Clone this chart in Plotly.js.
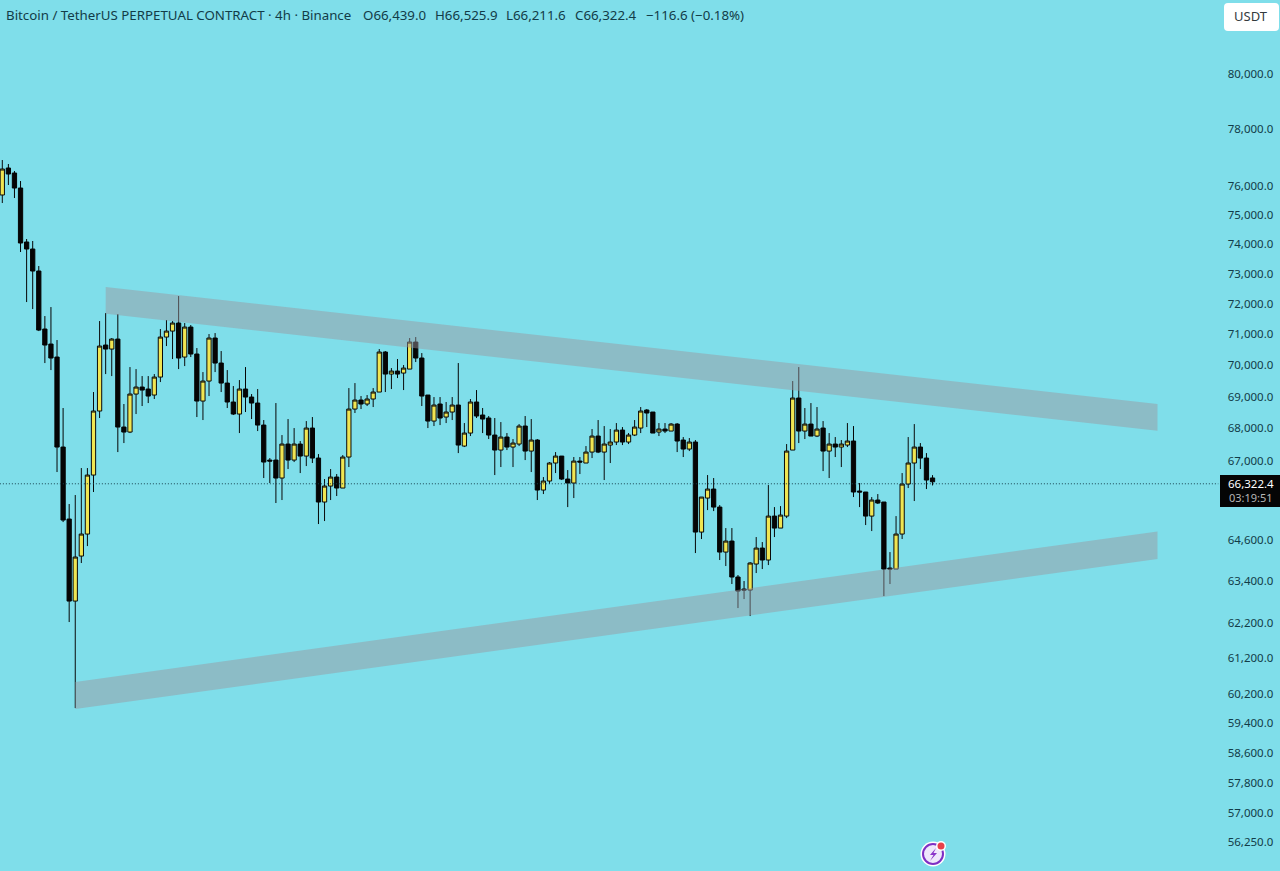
<!DOCTYPE html>
<html>
<head>
<meta charset="utf-8">
<script src="https://cdn.plot.ly/plotly-3.0.1.min.js"></script>
<style>html,body{margin:0;padding:0;background:#7fdeea;overflow:hidden}#chart{width:1280px;height:871px}</style>
</head>
<body>
<div id="chart"></div>
<script>
const open = [75647,76588,76413,75889,74033,73795,73054,71136,70648,70228,67388,65199,62792,64102,64752,66528,68511,70616,70486,70810,
68009,67853,69046,69268,69205,69015,69586,70875,71070,71332,70228,71201,70325,68825,69459,70843,70035,69395,68794,68416,
69205,68951,68762,68071,66987,66987,66437,67481,66987,67481,67110,67978,67049,65710,66193,66467,66133,67080,68573,68857,
68731,68889,69110,70390,69682,69778,69714,69842,70713,70196,69015,68196,68731,68322,68479,68699,67419,67822,68794,68385,
68291,67760,67295,67698,67388,67481,68040,67264,67605,66072,66346,66896,67110,66406,66285,66956,66896,67233,67729,67233,
67450,67543,67915,67543,67760,67978,68542,68479,67853,67947,67884,68102,67605,67326,67543,64811,65830,66102,65558,64219,
64544,63488,63139,63110,63868,64337,63985,65288,64930,65288,67295,68920,67884,68102,67729,67978,67264,67481,67388,67450,
67574,66042,66012,65288,65770,65710,63750,63721,64752,66254,66896,67388,67049,66439];
const close = [76553,76378,75889,73999,73795,73054,71103,70616,70196,67388,65169,62792,64073,64752,66528,68511,70583,70486,70810,68009,
67853,69046,69268,69173,68983,69586,70875,71070,71332,70196,71201,70325,68825,69459,70843,70035,69395,68794,68416,69205,
68951,68762,68071,66926,66956,66437,67481,66987,67481,67110,67978,67049,65710,66193,66467,66133,67080,68573,68857,68731,
68889,69110,70390,69682,69778,69682,69874,70713,70196,68983,68196,68699,68291,68479,68699,67450,67822,68794,68354,68259,
67760,67295,67698,67388,67512,68040,67264,67605,66072,66346,66896,67110,66406,66285,66956,66926,67233,67729,67233,67481,
67543,67915,67543,67760,68009,68511,68448,67822,67947,67884,68102,67574,67326,67543,64811,65860,66102,65558,64219,64544,
63488,63081,63110,63897,64337,63985,65288,64930,65318,67264,68920,67884,68102,67729,67947,67264,67481,67388,67481,67574,
66012,66012,65288,65770,65680,63721,63721,64752,66254,66896,67388,67049,66376,66322.4];
const high = [76870,76730,76483,76133,74135,74067,73222,71561,71857,70778,68605,65650,65921,66742,66742,69110,71397,71660,70843,71627,
68731,69906,69842,69618,69618,69682,71136,71430,71397,72221,71332,71267,70519,69746,70973,71005,70422,69810,69300,69491,
69906,69046,69205,68228,67049,68762,67760,68259,67978,67574,68196,68322,67172,66406,66712,66559,67141,69236,69395,68983,
69015,69236,70486,70422,69874,70164,69971,70843,70875,70357,69015,68951,68951,68794,68951,70035,68134,68889,69173,68605,
68354,68291,68165,67822,67636,68102,68354,68259,67636,66467,66926,67233,67110,66681,67080,67080,67419,67947,68228,68040,
67947,68134,68009,67822,68228,68636,68573,68479,68134,68134,68134,68134,67698,67667,67605,65860,66528,66437,65619,64930,
64930,63547,63372,63926,64663,64515,66224,65558,65588,67481,69459,69906,68605,68762,68636,68196,67822,67698,67605,68134,
68040,66285,66012,65860,65951,65710,64219,65288,66589,67698,68102,67512,67202,66525.9];
const low = [75369,75994,75542,73694,72022,71791,71070,70035,69810,66620,65109,62191,59785,63897,64396,66012,68291,69682,69618,67233,
67512,67822,68416,68668,68762,68889,69427,70583,70164,69842,69938,70228,68322,68228,68983,69746,69110,68605,68385,67822,
68479,68259,67884,66437,66285,65680,65770,66712,66926,66589,66803,66896,65050,65139,65770,65891,66133,66773,68448,68573,
68668,68636,69110,69110,69205,69555,69173,69842,70067,68668,67978,68040,68071,68134,68228,67202,67388,67729,68291,67822,
67636,66528,66773,67295,66773,67419,66987,66620,65770,65951,66254,66589,66376,65558,65830,66559,66896,67049,67202,66376,
66896,67450,67450,67481,67729,67822,68009,67822,67729,67822,67884,67233,67080,67264,64190,64604,65468,65438,63985,63809,
63285,62591,62850,62362,63604,63721,63838,64663,64930,65228,67295,67512,67636,67729,67698,66650,66437,67080,66773,67388,
65860,65558,65020,64841,65650,62936,63285,63721,64604,66133,65740,66712,66102,66211.6];
const candleIndex = open.map((_, i) => i);

const upperBandIndex = [17, 190, 190, 17];
const upperBandPrice = [72520, 68730, 67895, 71640];
const lowerBandIndex = [12, 190, 190, 12];
const lowerBandPrice = [60505, 64830, 64015, 59760];

const priceLineIndex = [-0.4, 200];
const priceLine = [66262, 66262];

const tickPrices = [80000,78000,76000,75000,74000,73000,72000,71000,70000,69000,68000,67000,64600,63400,62200,61200,60200,59400,58600,57800,57000,56250];
const tickLabels = tickPrices.map(v => v.toLocaleString('en-US', {minimumFractionDigits: 1}));

const headerTitle = 'Bitcoin / TetherUS PERPETUAL CONTRACT · 4h · Binance';
const headerValues = ['O66,439.0', 'H66,525.9', 'L66,211.6', 'C66,322.4', '−116.6 (−0.18%)'];
const headerValueX = [361, 433, 504, 573, 644];

const W = 1280, H = 871;
const px = x => x / W;
const py = y => 1 - y / H;
const FONT = '"Noto Sans", "Open Sans", sans-serif';
const INK = '#123c48';

function pt(x, y) { return px(x).toFixed(5) + ',' + py(y).toFixed(5); }
function circle(cx, cy, r, fill, line, lw) {
  return {type: 'circle', xref: 'paper', yref: 'paper', x0: px(cx - r), x1: px(cx + r), y0: py(cy + r), y1: py(cy - r),
    fillcolor: fill, line: {color: line || 'rgba(0,0,0,0)', width: lw || 0}, layer: 'above'};
}
function headerNote(text, x) {
  return {xref: 'paper', yref: 'paper', x: px(x), y: py(15), xanchor: 'left', yanchor: 'middle', showarrow: false, align: 'left',
    text: text, font: {family: FONT, size: 13.3, color: INK}};
}

const traces = [
  {type: 'candlestick', x: candleIndex, open: open, high: high, low: low, close: close,
   whiskerwidth: 0, hoverinfo: 'skip',
   increasing: {line: {color: '#0a0a0a', width: 1}, fillcolor: '#f0e552'},
   decreasing: {line: {color: '#050505', width: 1}, fillcolor: '#050505'}},
  {type: 'scatter', mode: 'lines', x: upperBandIndex, y: upperBandPrice, fill: 'toself', fillcolor: 'rgba(155,150,158,0.48)', line: {width: 0}, hoverinfo: 'skip'},
  {type: 'scatter', mode: 'lines', x: lowerBandIndex, y: lowerBandPrice, fill: 'toself', fillcolor: 'rgba(155,150,158,0.48)', line: {width: 0}, hoverinfo: 'skip'},
  {type: 'scatter', mode: 'lines', x: priceLineIndex, y: priceLine, line: {color: '#17444f', width: 1, dash: '1px,2px'}, hoverinfo: 'skip'}
];

const usdtPath = 'M' + pt(1228, 3) + ' L' + pt(1275, 3) + ' Q' + pt(1279, 3) + ' ' + pt(1279, 7) + ' L' + pt(1279, 27) + ' Q' + pt(1279, 31) + ' ' + pt(1275, 31)
  + ' L' + pt(1228, 31) + ' Q' + pt(1224, 31) + ' ' + pt(1224, 27) + ' L' + pt(1224, 7) + ' Q' + pt(1224, 3) + ' ' + pt(1228, 3) + ' Z';
const boltPath = 'M' + pt(936, 848) + ' L' + pt(930, 855) + ' L' + pt(933.5, 855) + ' L' + pt(930, 861) + ' L' + pt(937, 853) + ' L' + pt(933.5, 853) + ' Z';

const layout = {
  width: W, height: H,
  margin: {l: 0, r: 0, t: 0, b: 0, pad: 0},
  paper_bgcolor: '#7fdeea', plot_bgcolor: '#7fdeea',
  showlegend: false, boxgap: 0.3, boxgroupgap: 0,
  xaxis: {range: [-0.378, 210.15], visible: false, fixedrange: true, rangeslider: {visible: false}, type: 'linear'},
  yaxis: {type: 'log', range: [Math.log10(55480), Math.log10(82724)], side: 'right', ticklabelposition: 'inside',
    tickmode: 'array', tickvals: tickPrices, ticktext: tickLabels, showgrid: false, zeroline: false, showline: false,
    ticks: 'inside', ticklen: 3, tickcolor: 'rgba(0,0,0,0)', ticklabelstandoff: 3, ticklabelshift: 1, fixedrange: true,
    tickfont: {family: FONT, size: 11.5, color: INK}},
  shapes: [
    {type: 'path', xref: 'paper', yref: 'paper', path: usdtPath, fillcolor: '#ffffff', line: {width: 0}, layer: 'above'},
    {type: 'rect', xref: 'paper', yref: 'paper', x0: px(1220), x1: px(1280), y0: py(507), y1: py(475), fillcolor: '#050505', line: {width: 0}, layer: 'above'},
    circle(933, 854, 12.5, '#ffffff'),
    circle(933, 854, 10, '#efe7fb', '#7e2fc4', 2),
    {type: 'path', xref: 'paper', yref: 'paper', path: boltPath, fillcolor: '#8a35c9', line: {width: 0}, layer: 'above'},
    circle(941, 846, 5, '#ffffff'),
    circle(941, 846, 3.5, '#e8404a')
  ],
  annotations: [
    headerNote(headerTitle, 4)
  ].concat(headerValues.map((t, i) => headerNote(t, headerValueX[i]))).concat([
    {xref: 'paper', yref: 'paper', x: px(1251), y: py(16), xanchor: 'center', yanchor: 'middle', showarrow: false,
     text: 'USDT', font: {family: FONT, size: 13, color: '#333a3d'}},
    {xref: 'paper', yref: 'paper', x: px(1251), y: py(483), xanchor: 'center', yanchor: 'middle', showarrow: false,
     text: '66,322.4', font: {family: FONT, size: 11.5, color: '#ffffff'}},
    {xref: 'paper', yref: 'paper', x: px(1251), y: py(497), xanchor: 'center', yanchor: 'middle', showarrow: false,
     text: '03:19:51', font: {family: FONT, size: 11, color: '#b5b5b5'}}
  ])
};

Plotly.newPlot('chart', traces, layout, {displayModeBar: false, staticPlot: true});
</script>
</body>
</html>
